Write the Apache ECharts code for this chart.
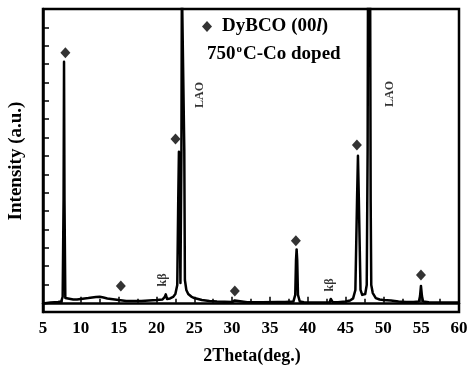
<!DOCTYPE html>
<html>
<head>
<meta charset="utf-8">
<script src="https://cdn.jsdelivr.net/npm/echarts@6/dist/echarts.min.js"></script>
<style>
html,body{margin:0;padding:0;background:#fff;}
#chart{width:474px;height:372px;}
</style>
</head>
<body>
<div id="chart"></div>
<script>
// XRD scan: 2Theta (deg) and intensity (a.u., one unit = one y tick spacing)
const twoTheta = [5.0,5.5,6.0,6.5,7.0,7.4,7.6,7.72,7.78,7.84,7.95,8.1,9.0,9.5,10.0,10.5,11.0,11.5,12.0,12.5,13.0,13.5,14.0,14.5,15.0,15.5,16.0,17.0,18.0,19.0,20.0,20.8,21.1,21.23,21.4,21.8,22.2,22.5,22.75,22.88,22.97,23.06,23.17,23.3,23.36,23.62,23.68,23.76,23.95,24.2,24.6,25.0,25.5,26.0,27.0,28.0,29.0,30.0,30.35,30.6,32.0,34.0,36.0,37.0,38.1,38.35,38.45,38.53,38.61,38.71,38.95,39.5,40.0,42.0,42.9,43.05,43.15,43.3,44.0,45.0,45.6,46.0,46.3,46.52,46.64,46.76,46.98,47.2,47.4,47.6,47.8,47.92,47.97,48.25,48.32,48.4,48.6,49.0,49.5,50.0,51.0,52.0,53.0,54.0,54.7,54.85,54.97,55.1,55.25,56.0,57.0,60.0];
const intensity = [-0.04,-0.01,0.02,0.03,0.04,0.07,0.32,5.6,13.13,5.6,0.26,0.18,0.18,0.18,0.21,0.24,0.26,0.29,0.32,0.33,0.29,0.24,0.21,0.18,0.15,0.13,0.10,0.10,0.10,0.13,0.15,0.18,0.32,0.46,0.21,0.24,0.32,0.48,0.97,5.6,8.23,5.6,1.08,8.32,17.5,17.5,8.32,1.24,0.70,0.48,0.34,0.26,0.21,0.15,0.10,0.07,0.06,0.04,0.13,0.04,0.03,0.03,0.04,0.04,0.07,0.43,2.33,2.91,2.33,0.43,0.07,0.03,0.02,0.02,0.03,0.21,0.25,0.04,0.03,0.07,0.13,0.24,0.70,5.6,8.01,5.6,0.70,0.43,0.33,0.48,0.97,8.32,17.5,17.5,5.6,0.97,0.53,0.26,0.18,0.15,0.13,0.07,0.04,0.04,0.07,0.37,0.92,0.37,0.07,0.03,0.02,0.02];

// DyBCO (00l) peak markers
const markerTheta = [7.96, 15.29, 22.52, 30.36, 38.43, 46.5, 54.97];
const markerValue = [13.62, 0.92, 8.92, 0.64, 3.38, 8.6, 1.52];

// peak annotations
const noteText = ['LAO', 'LAO', 'kβ', 'kβ'];
const noteTheta = [25.73, 50.87, 20.82, 42.9];
const noteValue = [11.32, 11.37, 1.24, 0.97];

// axis ticks
const xTickLabels = [5,10,15,20,25,30,35,40,45,50,55,60];
const yTickValues = [0,1,2,3,4,5,6,7,8,9,10,11,12,13,14,15];

const FONT = '"Liberation Serif", "Times New Roman", serif';

const lineData = twoTheta.map((x, i) => [x, intensity[i]]);
const markerData = markerTheta.map((x, i) => [x, markerValue[i]]);
const noteData = noteText.map((t, i) => ({ name: t, value: [noteTheta[i], noteValue[i]] }));

const chart = echarts.init(document.getElementById('chart'), null, { renderer: 'canvas' });
chart.setOption({
  animation: false,
  backgroundColor: '#fff',
  grid: { left: 43, right: 15, top: 9, bottom: 60, show: true, borderColor: '#000', borderWidth: 2.5, backgroundColor: 'transparent' },
  legend: {
    data: ['DyBCO (00l)'],
    left: 202, top: 17, padding: 0,
    icon: 'diamond', itemWidth: 10, itemHeight: 11,
    itemStyle: { color: '#000' },
    formatter: function () { return '{f|DyBCO (00}{i|l}{a|)}'; },
    textStyle: {
      rich: {
        f: { fontFamily: FONT, fontWeight: 'bold', fontSize: 19, color: '#000', padding: [0,0,0,5] },
        a: { fontFamily: FONT, fontWeight: 'bold', fontSize: 19, color: '#000' },
        i: { fontFamily: FONT, fontWeight: 'bold', fontStyle: 'italic', fontSize: 19, color: '#000' }
      }
    },
    selectedMode: false
  },
  xAxis: {
    type: 'value', min: 5, max: 60, interval: 5,
    axisLine: { show: true, lineStyle: { color: '#000', width: 2.5 } },
    axisTick: { show: true, inside: true, length: 6, lineStyle: { color: '#000', width: 1.5 } },
    minorTick: { show: true, splitNumber: 2, length: 4, lineStyle: { color: '#000', width: 1.5 } },
    axisLabel: {
      show: true, margin: 8, color: '#000', fontFamily: FONT, fontWeight: 'bold', fontSize: 17,
      showMinLabel: true, showMaxLabel: true,
      formatter: function (v) { return xTickLabels.indexOf(v) >= 0 ? String(v) : ''; }
    },
    splitLine: { show: false }
  },
  yAxis: {
    type: 'value', min: -0.5, max: 16,
    axisLine: { show: true, lineStyle: { color: '#000', width: 2.5 } },
    axisTick: { show: true, inside: true, length: 6, customValues: yTickValues, lineStyle: { color: '#000', width: 1.5 } },
    axisLabel: { show: false },
    splitLine: { show: false }
  },
  series: [
    {
      type: 'line', name: 'scan', data: lineData, showSymbol: false, symbol: 'none',
      lineStyle: { color: '#000', width: 2.5, join: 'round' }, clip: true, z: 2, silent: true
    },
    {
      type: 'scatter', name: 'DyBCO (00l)', data: markerData, symbol: 'diamond', symbolSize: [10, 11],
      itemStyle: { color: '#000' }, z: 3, silent: true
    },
    {
      type: 'scatter', name: 'notes', data: noteData, symbolSize: 0, silent: true,
      label: {
        show: true, position: 'inside', rotate: 90, formatter: '{b}',
        fontFamily: FONT, fontWeight: 'bold', fontSize: 12, color: '#000', textBorderWidth: 0
      }
    }
  ],
  graphic: [
    {
      type: 'text', x: 207, y: 54,
      style: {
        text: '750{s|o}C-Co doped',
        fontFamily: FONT, fontWeight: 'bold', fontSize: 19, fill: '#000',
        textAlign: 'left', textVerticalAlign: 'middle',
        rich: { s: { fontFamily: FONT, fontWeight: 'bold', fontSize: 11, verticalAlign: 'top', padding: [0,1,9,1] } }
      }
    },
    {
      type: 'text', x: 252, y: 356,
      style: { text: '2Theta(deg.)', fontFamily: FONT, fontWeight: 'bold', fontSize: 18, fill: '#000', textAlign: 'center', textVerticalAlign: 'middle' }
    },
    {
      type: 'text', x: 16, y: 161, rotation: Math.PI / 2,
      style: { text: 'Intensity (a.u.)', fontFamily: FONT, fontWeight: 'bold', fontSize: 19, fill: '#000', textAlign: 'center', textVerticalAlign: 'middle' }
    }
  ]
});
</script>
</body>
</html>
